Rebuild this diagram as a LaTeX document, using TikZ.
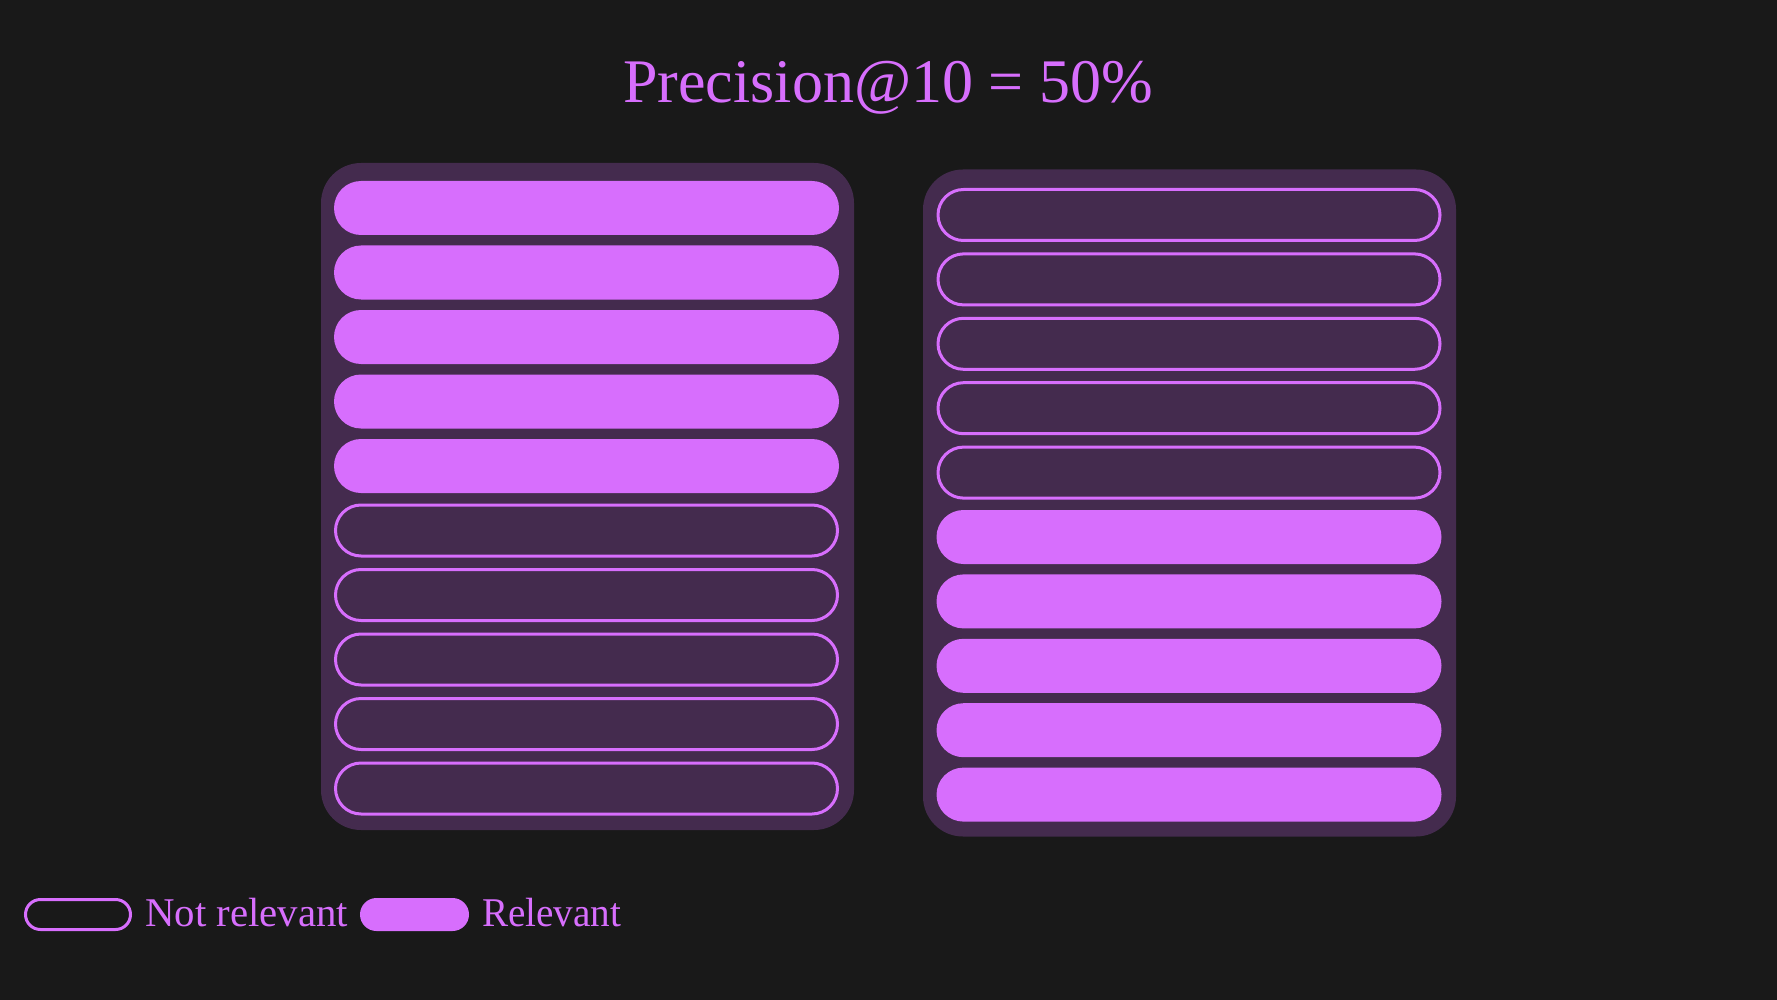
\documentclass[tikz,border=0pt]{standalone}
\usepackage{fontspec}
\setmainfont{Liberation Serif}
\definecolor{bgc}{RGB}{25,25,25}
\definecolor{panelc}{RGB}{68,43,78}
\definecolor{pinkc}{RGB}{215,110,253}
\begin{document}
\begin{tikzpicture}[x=1pt,y=-1pt,
  panelbox/.style={fill=panelc,draw=none,rounded corners=40pt,minimum width=533pt,minimum height=667pt,inner sep=0pt},
  relbar/.style={fill=pinkc,draw=none,rounded corners=27pt,minimum width=505pt,minimum height=54pt,inner sep=0pt},
  nonbar/.style={fill=panelc,draw=pinkc,line width=3pt,rounded corners=25.5pt,minimum width=502pt,minimum height=51pt,inner sep=0pt},
  relpill/.style={fill=pinkc,draw=none,rounded corners=16.5pt,minimum width=109pt,minimum height=33pt,inner sep=0pt},
  nonpill/.style={fill=bgc,draw=pinkc,line width=3pt,rounded corners=15pt,minimum width=105pt,minimum height=30pt,inner sep=0pt},
  lbl/.style={text=pinkc,inner sep=0pt,font=\fontsize{40.8pt}{44pt}\selectfont}
]
\fill[bgc] (0,0) rectangle (1777,1000);
\useasboundingbox (0,0) rectangle (1777,1000);
\node[text=pinkc,inner sep=0pt,anchor=base,font=\fontsize{62pt}{66pt}\selectfont] (title) at (888,103) {Precision@10 = 50\%};
% panels
\node[panelbox] (lp) at (587.5,496.5) {};
\node[panelbox] (rp) at (1189.5,503) {};
% left panel bars
\foreach \i in {0,...,4}{
  \node[relbar] (l\i) at (586.5,{208+64.5*\i}) {};
}
\foreach \i in {5,...,9}{
  \node[nonbar] (l\i) at (586.5,{208+64.5*\i}) {};
}
% right panel bars
\foreach \i in {0,...,4}{
  \node[nonbar] (r\i) at (1189,{215+64.4*\i}) {};
}
\foreach \i in {5,...,9}{
  \node[relbar] (r\i) at (1189,{215+64.4*\i}) {};
}
% legend
\node[nonpill] (lgn) at (78,914.5) {};
\node[lbl,anchor=base west] (lgnt) at (145,926) {Not relevant};
\node[relpill] (lgr) at (414.5,914.5) {};
\node[lbl,anchor=base west,xscale=0.96] (lgrt) at (482,926) {Relevant};
\end{tikzpicture}
\end{document}
